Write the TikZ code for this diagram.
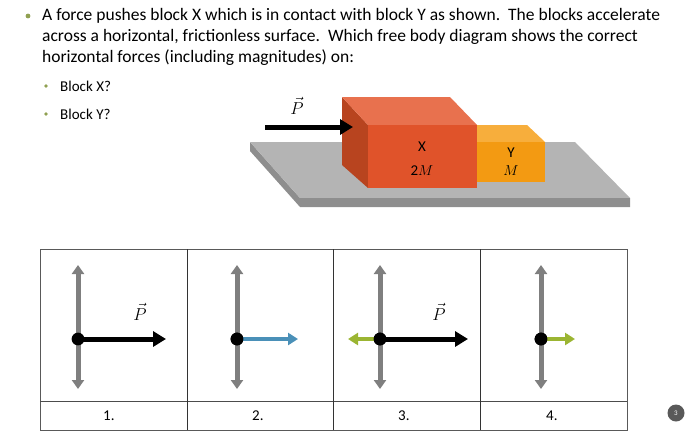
\documentclass[tikz,border=0pt]{standalone}
\usepackage{fontspec}
\setmainfont{Carlito}
\usetikzlibrary{arrows.meta}
\definecolor{xfront}{HTML}{E0532A}
\definecolor{xtop}{HTML}{E8714E}
\definecolor{xside}{HTML}{B8441F}
\definecolor{yfront}{HTML}{F39A12}
\definecolor{ytop}{HTML}{F7AE3C}
\definecolor{plat}{HTML}{B4B4B4}
\definecolor{platside}{HTML}{8E8E8E}
\definecolor{vgray}{HTML}{7F7F7F}
\definecolor{fblue}{HTML}{4A90B8}
\definecolor{fgreen}{HTML}{9BB532}
\begin{document}
\begin{tikzpicture}[x=1pt,y=-1pt,
  txt/.style={font=\fontsize{17.5}{20}\selectfont,anchor=west,inner sep=0},
  sub/.style={font=\fontsize{15}{17}\selectfont,anchor=west,inner sep=0},
  bul/.style={circle,fill=fgreen!60!gray,inner sep=1.7pt},
  vaxis/.style={draw=vgray,line width=5pt,{Triangle[width=12pt,length=9pt]}-{Triangle[width=12pt,length=9pt]}},
  force/.style={line width=5pt,-{Triangle[width=15pt,length=13pt]}},
  smforce/.style={line width=4.5pt,-{Triangle[width=12pt,length=10pt]}},
  dotc/.style={circle,fill=black,inner sep=4.5pt},
  plab/.style={font=\fontsize{16}{18}\selectfont}]
\useasboundingbox (0,0) rectangle (700,442);
% text
\node[bul] (b1) at (28,16) {};
\node[txt] (t1) at (42,16) {A force pushes block X which is in contact with block Y as shown.\ \ The blocks accelerate};
\node[txt] (t2) at (42,37) {across a horizontal, frictionless surface.\ \ Which free body diagram shows the correct};
\node[txt] (t3) at (42,58) {horizontal forces (including magnitudes) on:};
\node[bul,inner sep=1.4pt] (b2) at (46,86) {};
\node[sub] (s1) at (60,86) {Block X?};
\node[bul,inner sep=1.4pt] (b3) at (46,114) {};
\node[sub] (s2) at (60,114) {Block Y?};
% platform
\fill[platside] (250,142) -- (300,198) -- (630,198) -- (630,207) -- (300,207) -- (250,151) -- cycle;
\fill[plat] (250,142) -- (575,142) -- (630,198) -- (300,198) -- cycle;
\fill[platside] (300,198) rectangle (630,207);
% block Y
\fill[ytop] (477,125) -- (527,125) -- (545,142) -- (477,142) -- cycle;
\fill[yfront] (477,142) rectangle (545,182);
\node[font=\fontsize{15}{17}\selectfont] (ly) at (511,153) {Y};
\node[font=\fontsize{15}{17}\selectfont] (lm) at (511,171) {$M$};
% block X
\fill[xside] (342,97) -- (368,125) -- (368,188) -- (342,165) -- cycle;
\fill[xtop] (342,97) -- (450,97) -- (477,125) -- (368,125) -- cycle;
\fill[xfront] (368,125) rectangle (477,188);
\node[font=\fontsize{15}{17}\selectfont] (lx) at (422,147) {X};
\node[font=\fontsize{15}{17}\selectfont] (l2m) at (422,171) {2$M$};
% push arrow
\coordinate (ps) at (265,127);
\coordinate (pe) at (353,127);
\draw[force] (ps) -- (pe);
\node[plab] (pl) at (297,106) {$\vec{P}$};
% table
\draw[vgray!70!black,line width=1pt] (40,249) rectangle (627,430);
\draw[black!70,line width=0.7pt] (40,401) -- (627,401);
\foreach \x in {187,333,480} \draw[black!80,line width=0.7pt] (\x,249) -- (\x,430);
\node[sub] at (103,416) {1.};
\node[sub] at (252,416) {2.};
\node[sub] at (398,416) {3.};
\node[sub] at (546,416) {4.};
% diagram 1
\draw[vaxis] (78,265) -- (78,389);
\node[dotc] (d1) at (78,339) {};
\draw[force] (d1.center) -- (166,339);
\node[plab] at (140,312) {$\vec{P}$};
% diagram 2
\draw[vaxis] (237,265) -- (237,389);
\node[dotc] (d2) at (237,339) {};
\draw[smforce,draw=fblue,fill=fblue] (d2.center) -- (298,339);
\node[dotc] at (237,339) {};
% diagram 3
\draw[vaxis] (380,265) -- (380,389);
\node[dotc] (d3) at (380,339) {};
\draw[smforce,draw=fgreen,fill=fgreen] (d3.center) -- (348,339);
\draw[force] (d3.center) -- (468,339);
\node[plab] at (439,312) {$\vec{P}$};
\node[dotc] at (380,339) {};
% diagram 4
\draw[vaxis] (541,265) -- (541,389);
\node[dotc] (d4) at (541,339) {};
\draw[smforce,draw=fgreen,fill=fgreen] (d4.center) -- (575,339);
\node[dotc] at (541,339) {};
% badge
\node[circle,fill=black!65,minimum size=17pt,inner sep=0,text=white,font=\fontsize{7}{8}\selectfont] (bg) at (676,413) {3};
\end{tikzpicture}
\end{document}
